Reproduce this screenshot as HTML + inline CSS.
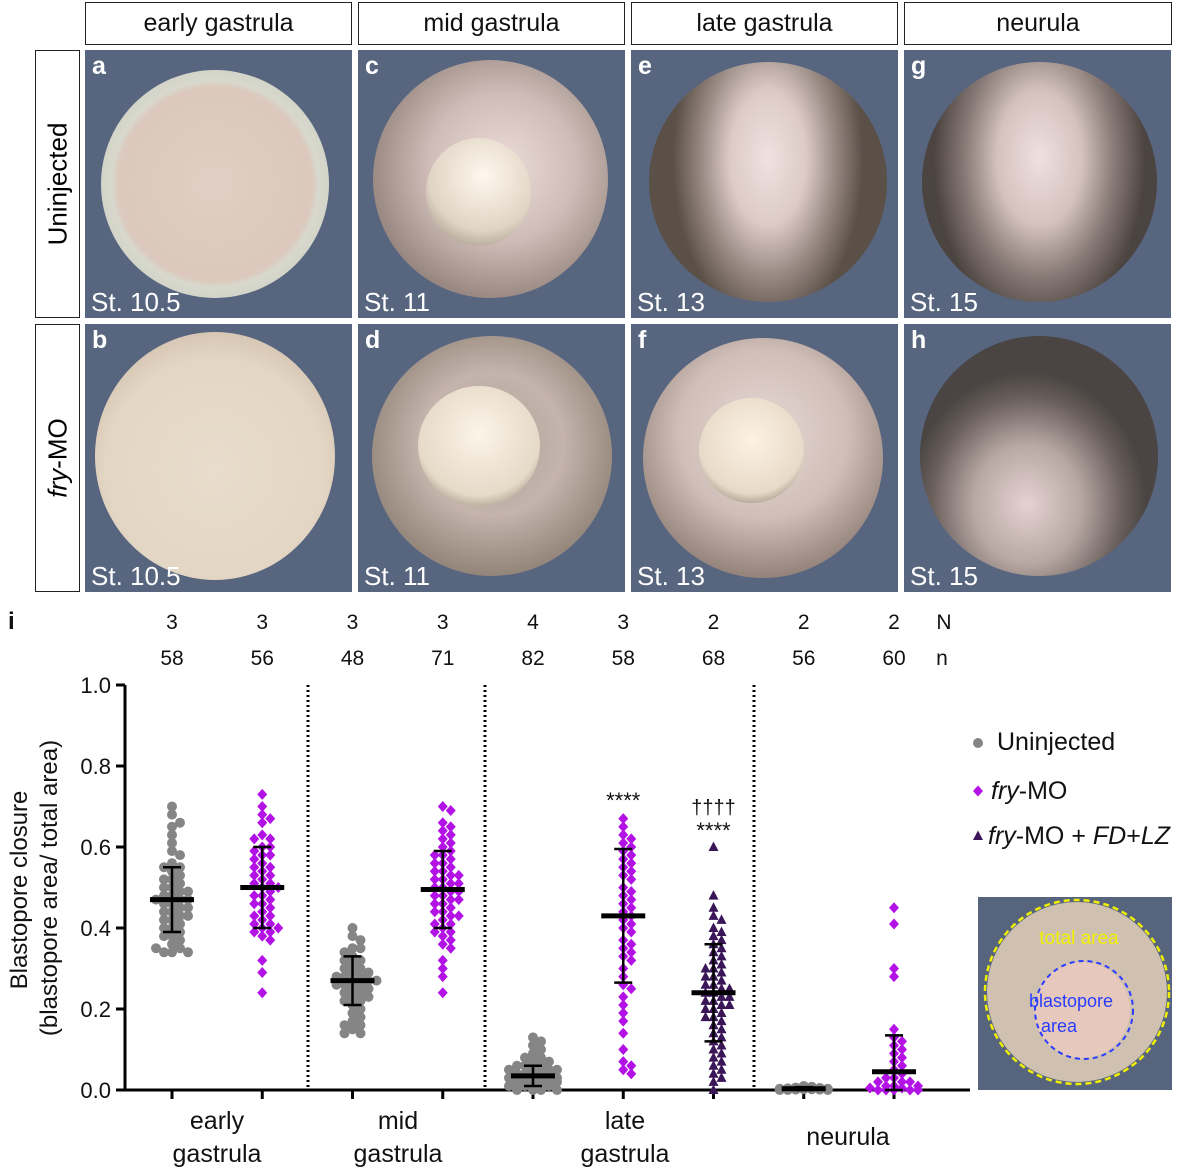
<!DOCTYPE html>
<html><head><meta charset="utf-8"><style>
body{margin:0;background:#fff;width:1200px;height:1173px;position:relative;overflow:hidden;font-family:"Liberation Sans",sans-serif}
.hdr{position:absolute;top:2px;height:43px;border:1.5px solid #222;box-sizing:border-box;font-size:25px;text-align:center;line-height:40px;color:#111}
.rowl{position:absolute;left:35px;width:45px;border:1.5px solid #222;box-sizing:border-box}
.rowl span{position:absolute;left:50%;top:50%;transform:translate(-50%,-50%) rotate(-90deg);font-size:26px;white-space:nowrap}
.pan{position:absolute;width:267px;height:268px;background:#57657f;overflow:hidden}
.emb{position:absolute;border-radius:50%}
.lt{position:absolute;left:7px;top:2px;color:#fff;font-weight:bold;font-size:25px}
.st{position:absolute;left:6px;bottom:0px;color:#fff;font-size:26px}
</style></head><body>
<div class="hdr" style="left:85px;width:267px">early gastrula</div>
<div class="hdr" style="left:358px;width:267px">mid gastrula</div>
<div class="hdr" style="left:631px;width:267px">late gastrula</div>
<div class="hdr" style="left:904px;width:268px">neurula</div>
<div class="rowl" style="top:50px;height:268px"><span>Uninjected</span></div>
<div class="rowl" style="top:324px;height:268px"><span><i>fry</i>-MO</span></div>

<div class="pan" style="left:85px;top:50px">
 <div class="emb" style="left:16px;top:20px;width:228px;height:228px;background:radial-gradient(circle at 50% 50%,#e0cfc4 0,#dcc8bc 60%,#d8d8cc 64%,#c8ccc4 88%,#3e5a6a 100%)"></div>
 <div class="lt">a</div><div class="st">St. 10.5</div></div>
<div class="pan" style="left:358px;top:50px">
 <div class="emb" style="left:15px;top:10px;width:235px;height:238px;background:radial-gradient(circle at 55% 45%,#ecdcd8 0,#cfbcb8 40%,#8c7c74 80%,#4a4038 100%)"></div>
 <div class="emb" style="left:68px;top:88px;width:105px;height:108px;background:radial-gradient(circle at 55% 35%,#fff8ee 0,#e0d4c4 60%,#8a8070 100%)"></div>
 <div class="lt">c</div><div class="st">St. 11</div></div>
<div class="pan" style="left:631px;top:50px">
 <div class="emb" style="left:18px;top:12px;width:238px;height:240px;background:radial-gradient(ellipse 40% 70% at 50% 40%,#f0e2e0 0,#dccac6 40%,#9a8a84 70%,#5a5048 100%)"></div>
 <div class="lt">e</div><div class="st">St. 13</div></div>
<div class="pan" style="left:904px;top:50px">
 <div class="emb" style="left:18px;top:12px;width:235px;height:240px;background:radial-gradient(ellipse 45% 70% at 50% 40%,#f0e0e0 0,#d4c2be 40%,#8a7c78 70%,#4c4440 100%)"></div>
 <div class="lt">g</div><div class="st">St. 15</div></div>
<div class="pan" style="left:85px;top:324px">
 <div class="emb" style="left:10px;top:8px;width:240px;height:248px;background:radial-gradient(circle at 50% 55%,#e8dccc 0,#e4d6c4 60%,#c8b8a4 90%,#4a4a48 100%)"></div>
 <div class="lt">b</div><div class="st">St. 10.5</div></div>
<div class="pan" style="left:358px;top:324px">
 <div class="emb" style="left:14px;top:12px;width:240px;height:240px;background:radial-gradient(circle at 50% 45%,#b0a498 0,#c4b4ac 40%,#8a7c70 80%,#4a4034 100%)"></div>
 <div class="emb" style="left:60px;top:62px;width:122px;height:120px;background:radial-gradient(circle at 50% 40%,#fbf4e8 0,#e6dac8 65%,#6a6050 100%)"></div>
 <div class="lt">d</div><div class="st">St. 11</div></div>
<div class="pan" style="left:631px;top:324px">
 <div class="emb" style="left:12px;top:14px;width:240px;height:240px;background:radial-gradient(circle at 50% 40%,#e8d8d4 0,#d0beb8 45%,#7a6a60 90%,#4a4038 100%)"></div>
 <div class="emb" style="left:68px;top:74px;width:105px;height:105px;background:radial-gradient(circle at 50% 40%,#fcf2e4 0,#e8dac8 65%,#5a5040 100%)"></div>
 <div class="lt">f</div><div class="st">St. 13</div></div>
<div class="pan" style="left:904px;top:324px">
 <div class="emb" style="left:16px;top:12px;width:238px;height:240px;background:radial-gradient(ellipse 50% 55% at 45% 70%,#e4d2d0 0,#b8a8a4 45%,#6a605c 80%,#4a4442 100%)"></div>
 <div class="lt">h</div><div class="st">St. 15</div></div>

<svg id="chart" width="1200" height="1173" style="position:absolute;left:0;top:0">
 <g id="inset">
  <rect x="978" y="897" width="194" height="193" fill="#56647e"/>
  <circle cx="1077" cy="992" r="90" fill="#cfc0b0"/>
  <circle cx="1082" cy="1010" r="48" fill="#e6c8bc"/>
  <circle cx="1077" cy="992" r="92" fill="none" stroke="#f0f000" stroke-width="2.5" stroke-dasharray="6,4"/>
  <circle cx="1084" cy="1010" r="49" fill="none" stroke="#2a3cff" stroke-width="2" stroke-dasharray="5,4"/>
  <text x="1079" y="944" font-size="19" fill="#f0f000" text-anchor="middle">total area</text>
  <text x="1071" y="1007" font-size="18" fill="#2a3cff" text-anchor="middle">blastopore</text>
  <text x="1059" y="1032" font-size="18" fill="#2a3cff" text-anchor="middle">area</text>
 </g>
</svg>
<script>
const groupNames=["early-uninjected","early-fry-mo","mid-uninjected","mid-fry-mo","late-uninjected","late-fry-mo","late-rescue","neurula-uninjected","neurula-fry-mo"];
const groupType=[0,1,0,1,0,1,2,0,1];
const Ncounts=[3,3,3,3,4,3,2,2,2];
const ncounts=[58,56,48,71,82,58,68,56,60];
const means=[0.47,0.50,0.27,0.495,0.035,0.43,0.24,0.003,0.045];
const sds=[0.08,0.10,0.06,0.095,0.025,0.165,0.12,0.004,0.09];
const yTicks=[0,0.2,0.4,0.6,0.8,1.0];
const yTickLabels=["0.0","0.2","0.4","0.6","0.8","1.0"];
const g0=[0.70,0.68,0.65,0.66,0.63,0.61,0.59,0.58,0.56,0.55,0.55,0.54,0.53,0.52,0.52,0.51,0.50,0.50,0.49,0.49,0.48,0.48,0.47,0.47,0.47,0.46,0.46,0.45,0.45,0.44,0.44,0.43,0.43,0.42,0.42,0.41,0.40,0.40,0.39,0.38,0.38,0.37,0.36,0.35,0.34,0.34,0.34,0.35];
const g1=[0.73,0.70,0.68,0.67,0.66,0.63,0.62,0.62,0.60,0.60,0.59,0.58,0.58,0.57,0.56,0.55,0.55,0.54,0.53,0.53,0.52,0.51,0.51,0.50,0.50,0.49,0.48,0.48,0.47,0.46,0.46,0.45,0.44,0.43,0.43,0.42,0.41,0.41,0.40,0.40,0.39,0.39,0.38,0.37,0.32,0.29,0.24];
const g2=[0.40,0.38,0.37,0.35,0.35,0.34,0.33,0.32,0.32,0.31,0.30,0.30,0.29,0.29,0.28,0.28,0.28,0.27,0.27,0.27,0.26,0.26,0.26,0.25,0.25,0.24,0.24,0.23,0.23,0.22,0.22,0.21,0.20,0.19,0.18,0.17,0.16,0.16,0.15,0.14,0.14];
const g3=[0.70,0.69,0.66,0.65,0.64,0.63,0.62,0.61,0.60,0.59,0.58,0.58,0.57,0.56,0.56,0.55,0.54,0.54,0.53,0.53,0.52,0.52,0.51,0.51,0.50,0.50,0.49,0.49,0.48,0.48,0.47,0.47,0.46,0.46,0.45,0.44,0.44,0.43,0.43,0.42,0.41,0.41,0.40,0.39,0.39,0.38,0.37,0.36,0.35,0.32,0.30,0.28,0.24];
const g4=[0.13,0.12,0.11,0.10,0.09,0.08,0.08,0.07,0.07,0.06,0.06,0.06,0.05,0.05,0.05,0.05,0.04,0.04,0.04,0.04,0.04,0.03,0.03,0.03,0.03,0.03,0.03,0.02,0.02,0.02,0.02,0.02,0.02,0.01,0.01,0.01,0.01,0.01,0.0,0.0,0.0,0.0];
const g5=[0.67,0.65,0.63,0.62,0.61,0.60,0.59,0.58,0.57,0.56,0.55,0.54,0.53,0.52,0.50,0.49,0.48,0.47,0.46,0.45,0.44,0.43,0.42,0.41,0.40,0.39,0.37,0.36,0.35,0.34,0.33,0.32,0.30,0.28,0.26,0.25,0.23,0.21,0.19,0.17,0.14,0.10,0.07,0.06,0.05,0.04];
const g6=[0.60,0.48,0.45,0.43,0.42,0.40,0.39,0.38,0.37,0.36,0.35,0.34,0.33,0.32,0.31,0.30,0.30,0.29,0.28,0.28,0.27,0.26,0.26,0.25,0.25,0.24,0.24,0.23,0.23,0.22,0.22,0.21,0.21,0.20,0.20,0.19,0.18,0.18,0.17,0.16,0.15,0.14,0.13,0.12,0.11,0.10,0.09,0.08,0.07,0.06,0.05,0.04,0.03,0.02,0.0];
const g7=[0.01,0.008,0.006,0.005,0.004,0.003,0.003,0.002,0.002,0.001,0.001,0.0,0.0,0.0];
const g8=[0.45,0.41,0.30,0.28,0.15,0.13,0.12,0.11,0.10,0.09,0.08,0.07,0.06,0.05,0.04,0.03,0.03,0.02,0.02,0.02,0.01,0.01,0.01,0.005,0.005,0.0,0.0,0.0,0.0,0.0];
const groups=[g0,g1,g2,g3,g4,g5,g6,g7,g8];

const NS="http://www.w3.org/2000/svg";
const svg=document.getElementById('chart');
const X0=125,Y0=1090,Y1=685,GX0=172,GSTEP=90.25;
function yy(v){return Y0-(Y0-Y1)*v;}
function gx(i){return GX0+GSTEP*i;}
function mk(tag,attrs){const e=document.createElementNS(NS,tag);for(const k in attrs)e.setAttribute(k,attrs[k]);svg.appendChild(e);return e;}
function txt(x,yv,s,size,anchor){const t=mk('text',{x:x,y:yv,'font-size':size,'text-anchor':anchor||'middle',fill:'#111'});t.textContent=s;return t;}

let ax=mk('line',{x1:X0,y1:Y1,x2:X0,y2:Y0+1.5,stroke:'#000','stroke-width':3});


let xa=mk('line',{x1:X0-1.5,y1:Y0,x2:970,y2:Y0,stroke:'#000','stroke-width':3});


yTicks.forEach((v,i)=>{
 mk('line',{x1:X0-9,y1:yy(v),x2:X0,y2:yy(v),stroke:'#000','stroke-width':3});
 const t=txt(X0-14,yy(v)+8,yTickLabels[i],22,'end');
 
 
});
groups.forEach((g,i)=>{mk('line',{x1:gx(i),y1:Y0,x2:gx(i),y2:Y0+9,stroke:'#000','stroke-width':3});});
[308,485,754].forEach(x=>{const l=mk('line',{x1:x,y1:Y1,x2:x,y2:Y0,stroke:'#000','stroke-width':3,'stroke-dasharray':'2,3'});
 
 });

groups.forEach((g,i)=>{
 const a=txt(gx(i),629,String(Ncounts[i]),21);
 
 
 const b=txt(gx(i),665,String(ncounts[i]),21);
 
 
});
txt(944,629,'N',21);txt(942,665,'n',21);
const il=txt(8,629,'i',24,'start');il.setAttribute('font-weight','bold');

const yt=mk('text',{transform:'translate(27,890) rotate(-90)','font-size':24,'text-anchor':'middle',fill:'#111'});
yt.textContent='Blastopore closure';


const yt2=mk('text',{transform:'translate(57,888) rotate(-90)','font-size':24,'text-anchor':'middle',fill:'#111'});
yt2.textContent='(blastopore area/ total area)';

[[217,1129,'early'],[217,1162,'gastrula'],[398,1129,'mid'],[398,1162,'gastrula'],[625,1129,'late'],[625,1162,'gastrula'],[848,1145,'neurula']].forEach(a=>{
 const t=txt(a[0],a[1],a[2],25);
 
 
});

const colors=['#858585','#b312e6','#3a1658'];
function marker(type,cx,cy){
 let e;
 if(type===0)e=mk('circle',{cx:cx,cy:cy,r:5,fill:colors[0]});
 else if(type===1)e=mk('path',{d:`M${cx} ${cy-5.5}L${cx+5} ${cy}L${cx} ${cy+5.5}L${cx-5} ${cy}Z`,fill:colors[1]});
 else e=mk('path',{d:`M${cx} ${cy-5.5}L${cx+5} ${cy+4}L${cx-5} ${cy+4}Z`,fill:colors[2]});
 return e;
}
groups.forEach((g,i)=>{
 const placed=[];
 const cx0=gx(i);
 g.forEach(v=>{
  const cy=yy(v);
  let best=0,bestD=-1;
  for(let k=0;k<=6;k++){
   const off=(k===0)?0:((k%2?1:-1)*Math.ceil(k/2)*8);
   let d=Infinity;placed.forEach(p=>{d=Math.min(d,Math.hypot(p[0]-(cx0+off),p[1]-cy));});
   if(d>=8){best=off;bestD=d;break;}
   if(d>bestD){bestD=d;best=off;}
  }
  placed.push([cx0+best,cy]);
  const m=marker(groupType[i],cx0+best,cy);
  
  
 });
 const m=means[i],s=sds[i];
 const lo=Math.max(0,m-s),hi=m+s;
 const eb=mk('line',{x1:cx0,y1:yy(hi),x2:cx0,y2:yy(lo),stroke:'#000','stroke-width':2.5});
 
 
 mk('line',{x1:cx0-9,y1:yy(hi),x2:cx0+9,y2:yy(hi),stroke:'#000','stroke-width':2.5});
 mk('line',{x1:cx0-9,y1:yy(lo),x2:cx0+9,y2:yy(lo),stroke:'#000','stroke-width':2.5});
 const mb=mk('line',{x1:cx0-22,y1:yy(m),x2:cx0+22,y2:yy(m),stroke:'#000','stroke-width':5});
 
 
});
txt(gx(5),808,'****',22);
txt(gx(6),814,'††††',20);
txt(gx(6),838,'****',22);

const leg=[[0,750],[1,798],[2,843]];
leg.forEach(l=>{
 const m=marker(l[0],978,l[1]-7);
 
 
});
let t1=txt(997,750,'Uninjected',25,'start');


let t2=mk('text',{x:991,y:799,'font-size':25,fill:'#111'});t2.innerHTML='<tspan font-style="italic">fry</tspan>-MO';


let t3=mk('text',{x:988,y:844,'font-size':25,fill:'#111'});t3.innerHTML='<tspan font-style="italic">fry</tspan>-MO + <tspan font-style="italic">FD</tspan>+<tspan font-style="italic">LZ</tspan>';


svg.appendChild(document.getElementById('inset'));
</script>
</body></html>
